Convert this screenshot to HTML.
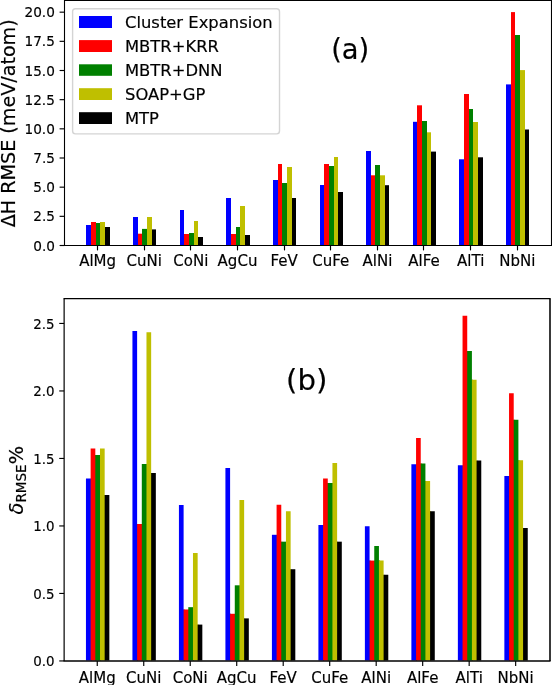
<!DOCTYPE html>
<html lang="en"><head><meta charset="utf-8"><title>RMSE comparison</title>
<style>html,body{margin:0;padding:0;background:#fff}svg{display:block}text{stroke:#000;stroke-width:0.18px}</style></head>
<body>
<svg width="552" height="685" viewBox="0 0 552 685" font-family="'DejaVu Sans', 'Liberation Sans', sans-serif" fill="#000">
<rect x="0" y="0" width="552" height="685" fill="#fff"/>
<g>
<rect x="86" y="225" width="5" height="20" fill="#0000ff"/>
<rect x="91" y="222" width="5" height="23" fill="#ff0000"/>
<rect x="96" y="223" width="4" height="22" fill="#008000"/>
<rect x="100" y="222" width="5" height="23" fill="#bfbf00"/>
<rect x="105" y="227" width="5" height="18" fill="#000000"/>
<rect x="133" y="217" width="5" height="28" fill="#0000ff"/>
<rect x="138" y="233.7" width="4" height="11.3" fill="#ff0000"/>
<rect x="142" y="228.9" width="5" height="16.1" fill="#008000"/>
<rect x="147" y="217" width="5" height="28" fill="#bfbf00"/>
<rect x="152" y="229.4" width="4" height="15.6" fill="#000000"/>
<rect x="180" y="210" width="4" height="35" fill="#0000ff"/>
<rect x="184" y="234" width="5" height="11" fill="#ff0000"/>
<rect x="189" y="233" width="5" height="12" fill="#008000"/>
<rect x="194" y="221" width="4" height="24" fill="#bfbf00"/>
<rect x="198" y="237" width="5" height="8" fill="#000000"/>
<rect x="226" y="198" width="5" height="47" fill="#0000ff"/>
<rect x="231" y="234" width="5" height="11" fill="#ff0000"/>
<rect x="236" y="227" width="4" height="18" fill="#008000"/>
<rect x="240" y="206" width="5" height="39" fill="#bfbf00"/>
<rect x="245" y="235" width="5" height="10" fill="#000000"/>
<rect x="273" y="180" width="5" height="65" fill="#0000ff"/>
<rect x="278" y="164" width="4" height="81" fill="#ff0000"/>
<rect x="282" y="183" width="5" height="62" fill="#008000"/>
<rect x="287" y="167" width="5" height="78" fill="#bfbf00"/>
<rect x="292" y="198" width="4" height="47" fill="#000000"/>
<rect x="320" y="185" width="4" height="60" fill="#0000ff"/>
<rect x="324" y="164" width="5" height="81" fill="#ff0000"/>
<rect x="329" y="166" width="5" height="79" fill="#008000"/>
<rect x="334" y="157" width="4" height="88" fill="#bfbf00"/>
<rect x="338" y="192" width="5" height="53" fill="#000000"/>
<rect x="366" y="151" width="5" height="94" fill="#0000ff"/>
<rect x="371" y="175.3" width="4" height="69.7" fill="#ff0000"/>
<rect x="375" y="165" width="5" height="80" fill="#008000"/>
<rect x="380" y="175.3" width="5" height="69.7" fill="#bfbf00"/>
<rect x="385" y="185.2" width="4" height="59.8" fill="#000000"/>
<rect x="413" y="121.8" width="4" height="123.2" fill="#0000ff"/>
<rect x="417" y="105.3" width="5" height="139.7" fill="#ff0000"/>
<rect x="422" y="121" width="5" height="124" fill="#008000"/>
<rect x="427" y="132.3" width="4" height="112.7" fill="#bfbf00"/>
<rect x="431" y="151.6" width="5" height="93.4" fill="#000000"/>
<rect x="459" y="159.3" width="5" height="85.7" fill="#0000ff"/>
<rect x="464" y="94" width="5" height="151" fill="#ff0000"/>
<rect x="469" y="109" width="4" height="136" fill="#008000"/>
<rect x="473" y="122" width="5" height="123" fill="#bfbf00"/>
<rect x="478" y="157.3" width="5" height="87.7" fill="#000000"/>
<rect x="506" y="84.4" width="5" height="160.6" fill="#0000ff"/>
<rect x="511" y="12.1" width="4" height="232.9" fill="#ff0000"/>
<rect x="515" y="35" width="5" height="210" fill="#008000"/>
<rect x="520" y="70.1" width="5" height="174.9" fill="#bfbf00"/>
<rect x="525" y="129.5" width="4" height="115.5" fill="#000000"/>
</g>
<line x1="97.50" y1="245.5" x2="97.50" y2="250.40" stroke="#000" stroke-width="1.15"/>
<text x="79.17" y="266.3" font-size="15.28" textLength="36.90" lengthAdjust="spacingAndGlyphs">AlMg</text>
<line x1="144.50" y1="245.5" x2="144.50" y2="250.40" stroke="#000" stroke-width="1.15"/>
<text x="126.56" y="266.3" font-size="15.28" textLength="35.38" lengthAdjust="spacingAndGlyphs">CuNi</text>
<line x1="190.50" y1="245.5" x2="190.50" y2="250.40" stroke="#000" stroke-width="1.15"/>
<text x="173.35" y="266.3" font-size="15.28" textLength="35.05" lengthAdjust="spacingAndGlyphs">CoNi</text>
<line x1="237.50" y1="245.5" x2="237.50" y2="250.40" stroke="#000" stroke-width="1.15"/>
<text x="217.62" y="266.3" font-size="15.28" textLength="39.78" lengthAdjust="spacingAndGlyphs">AgCu</text>
<line x1="284.50" y1="245.5" x2="284.50" y2="250.40" stroke="#000" stroke-width="1.15"/>
<text x="270.49" y="266.3" font-size="15.28" textLength="27.31" lengthAdjust="spacingAndGlyphs">FeV</text>
<line x1="330.50" y1="245.5" x2="330.50" y2="250.40" stroke="#000" stroke-width="1.15"/>
<text x="312.25" y="266.3" font-size="15.28" textLength="37.03" lengthAdjust="spacingAndGlyphs">CuFe</text>
<line x1="377.50" y1="245.5" x2="377.50" y2="250.40" stroke="#000" stroke-width="1.15"/>
<text x="362.49" y="266.3" font-size="15.28" textLength="29.83" lengthAdjust="spacingAndGlyphs">AlNi</text>
<line x1="423.50" y1="245.5" x2="423.50" y2="250.40" stroke="#000" stroke-width="1.15"/>
<text x="408.29" y="266.3" font-size="15.28" textLength="31.48" lengthAdjust="spacingAndGlyphs">AlFe</text>
<line x1="470.50" y1="245.5" x2="470.50" y2="250.40" stroke="#000" stroke-width="1.15"/>
<text x="457.01" y="266.3" font-size="15.28" textLength="27.31" lengthAdjust="spacingAndGlyphs">AlTi</text>
<line x1="517.50" y1="245.5" x2="517.50" y2="250.40" stroke="#000" stroke-width="1.15"/>
<text x="499.22" y="266.3" font-size="15.28" textLength="36.14" lengthAdjust="spacingAndGlyphs">NbNi</text>
<line x1="59.60" y1="245.50" x2="64.5" y2="245.50" stroke="#000" stroke-width="1.15"/>
<text x="33.21" y="250.60" font-size="13.89" textLength="21.69" lengthAdjust="spacingAndGlyphs">0.0</text>
<line x1="59.60" y1="216.33" x2="64.5" y2="216.33" stroke="#000" stroke-width="1.15"/>
<text x="33.21" y="221.43" font-size="13.89" textLength="21.69" lengthAdjust="spacingAndGlyphs">2.5</text>
<line x1="59.60" y1="187.17" x2="64.5" y2="187.17" stroke="#000" stroke-width="1.15"/>
<text x="33.21" y="192.27" font-size="13.89" textLength="21.69" lengthAdjust="spacingAndGlyphs">5.0</text>
<line x1="59.60" y1="158.00" x2="64.5" y2="158.00" stroke="#000" stroke-width="1.15"/>
<text x="33.21" y="163.10" font-size="13.89" textLength="21.69" lengthAdjust="spacingAndGlyphs">7.5</text>
<line x1="59.60" y1="128.83" x2="64.5" y2="128.83" stroke="#000" stroke-width="1.15"/>
<text x="24.53" y="133.93" font-size="13.89" textLength="30.37" lengthAdjust="spacingAndGlyphs">10.0</text>
<line x1="59.60" y1="99.67" x2="64.5" y2="99.67" stroke="#000" stroke-width="1.15"/>
<text x="24.53" y="104.77" font-size="13.89" textLength="30.37" lengthAdjust="spacingAndGlyphs">12.5</text>
<line x1="59.60" y1="70.50" x2="64.5" y2="70.50" stroke="#000" stroke-width="1.15"/>
<text x="24.53" y="75.60" font-size="13.89" textLength="30.37" lengthAdjust="spacingAndGlyphs">15.0</text>
<line x1="59.60" y1="41.33" x2="64.5" y2="41.33" stroke="#000" stroke-width="1.15"/>
<text x="24.53" y="46.43" font-size="13.89" textLength="30.37" lengthAdjust="spacingAndGlyphs">17.5</text>
<line x1="59.60" y1="12.17" x2="64.5" y2="12.17" stroke="#000" stroke-width="1.15"/>
<text x="24.53" y="17.27" font-size="13.89" textLength="30.37" lengthAdjust="spacingAndGlyphs">20.0</text>
<line x1="63.95" y1="0.5" x2="552.05" y2="0.5" stroke="#000" stroke-width="1.1"/>
<line x1="551.5" y1="0.5" x2="551.5" y2="245.5" stroke="#000" stroke-width="1.1"/>
<line x1="63.95" y1="245.5" x2="552.05" y2="245.5" stroke="#000" stroke-width="1.1"/>
<line x1="64.5" y1="0.5" x2="64.5" y2="245.5" stroke="#000" stroke-width="1.1"/>
<path d="M85.95 660.5V478.38H90.63V478.38h1V660.5Z" fill="#0000ff"/>
<path d="M90.63 660.5V448.42H95.31V454.89h1V660.5Z" fill="#ff0000"/>
<path d="M95.31 660.5V454.89H99.99V454.89h1V660.5Z" fill="#008000"/>
<path d="M99.99 660.5V448.42H104.67V495.12h1V660.5Z" fill="#bfbf00"/>
<path d="M104.67 660.5V495.12H109.35V660.5Z" fill="#000000"/>
<path d="M132.44 660.5V331.10H137.12V523.88h1V660.5Z" fill="#0000ff"/>
<path d="M137.12 660.5V523.88H141.80V523.88h1V660.5Z" fill="#ff0000"/>
<path d="M141.80 660.5V463.94H146.48V463.94h1V660.5Z" fill="#008000"/>
<path d="M146.48 660.5V332.31H151.16V473.12h1V660.5Z" fill="#bfbf00"/>
<path d="M151.16 660.5V473.12H155.84V660.5Z" fill="#000000"/>
<path d="M178.93 660.5V504.98H183.61V609.47h1V660.5Z" fill="#0000ff"/>
<path d="M183.61 660.5V609.47H188.29V609.47h1V660.5Z" fill="#ff0000"/>
<path d="M188.29 660.5V607.17H192.97V607.17h1V660.5Z" fill="#008000"/>
<path d="M192.97 660.5V553.04H197.65V624.59h1V660.5Z" fill="#bfbf00"/>
<path d="M197.65 660.5V624.59H202.33V660.5Z" fill="#000000"/>
<path d="M225.42 660.5V468.12H230.10V613.79h1V660.5Z" fill="#0000ff"/>
<path d="M230.10 660.5V613.79H234.78V613.79h1V660.5Z" fill="#ff0000"/>
<path d="M234.78 660.5V585.30H239.46V585.30h1V660.5Z" fill="#008000"/>
<path d="M239.46 660.5V499.99H244.14V618.38h1V660.5Z" fill="#bfbf00"/>
<path d="M244.14 660.5V618.38H248.82V660.5Z" fill="#000000"/>
<path d="M271.91 660.5V534.79H276.59V534.79h1V660.5Z" fill="#0000ff"/>
<path d="M276.59 660.5V504.81H281.27V541.67h1V660.5Z" fill="#ff0000"/>
<path d="M281.27 660.5V541.67H285.95V541.67h1V660.5Z" fill="#008000"/>
<path d="M285.95 660.5V511.30H290.63V569.21h1V660.5Z" fill="#bfbf00"/>
<path d="M290.63 660.5V569.21H295.31V660.5Z" fill="#000000"/>
<path d="M318.40 660.5V525.07H323.08V525.07h1V660.5Z" fill="#0000ff"/>
<path d="M323.08 660.5V478.62H327.76V483.08h1V660.5Z" fill="#ff0000"/>
<path d="M327.76 660.5V483.08H332.44V483.08h1V660.5Z" fill="#008000"/>
<path d="M332.44 660.5V463.10H337.12V541.67h1V660.5Z" fill="#bfbf00"/>
<path d="M337.12 660.5V541.67H341.80V660.5Z" fill="#000000"/>
<path d="M364.89 660.5V526.14H369.57V560.57h1V660.5Z" fill="#0000ff"/>
<path d="M369.57 660.5V560.57H374.25V560.57h1V660.5Z" fill="#ff0000"/>
<path d="M374.25 660.5V546.12H378.93V560.57h1V660.5Z" fill="#008000"/>
<path d="M378.93 660.5V560.57H383.61V574.75h1V660.5Z" fill="#bfbf00"/>
<path d="M383.61 660.5V574.75H388.29V660.5Z" fill="#000000"/>
<path d="M411.38 660.5V464.18H416.06V464.18h1V660.5Z" fill="#0000ff"/>
<path d="M416.06 660.5V438.12H420.74V463.50h1V660.5Z" fill="#ff0000"/>
<path d="M420.74 660.5V463.50H425.42V480.92h1V660.5Z" fill="#008000"/>
<path d="M425.42 660.5V480.92H430.10V511.30h1V660.5Z" fill="#bfbf00"/>
<path d="M430.10 660.5V511.30H434.78V660.5Z" fill="#000000"/>
<path d="M457.87 660.5V465.29H462.55V465.29h1V660.5Z" fill="#0000ff"/>
<path d="M462.55 660.5V315.85H467.23V350.94h1V660.5Z" fill="#ff0000"/>
<path d="M467.23 660.5V350.94H471.91V379.70h1V660.5Z" fill="#008000"/>
<path d="M471.91 660.5V379.70H476.59V460.43h1V660.5Z" fill="#bfbf00"/>
<path d="M476.59 660.5V460.43H481.27V660.5Z" fill="#000000"/>
<path d="M504.36 660.5V476.09H509.04V476.09h1V660.5Z" fill="#0000ff"/>
<path d="M509.04 660.5V393.20H513.72V419.66h1V660.5Z" fill="#ff0000"/>
<path d="M513.72 660.5V419.66H518.40V460.16h1V660.5Z" fill="#008000"/>
<path d="M518.40 660.5V460.16H523.08V527.93h1V660.5Z" fill="#bfbf00"/>
<path d="M523.08 660.5V527.93H527.76V660.5Z" fill="#000000"/>
<line x1="97.25" y1="661.0" x2="97.25" y2="665.90" stroke="#000" stroke-width="1.15"/>
<text x="78.80" y="682.6" font-size="15.28" textLength="36.90" lengthAdjust="spacingAndGlyphs">AlMg</text>
<line x1="143.74" y1="661.0" x2="143.74" y2="665.90" stroke="#000" stroke-width="1.15"/>
<text x="126.05" y="682.6" font-size="15.28" textLength="35.38" lengthAdjust="spacingAndGlyphs">CuNi</text>
<line x1="190.23" y1="661.0" x2="190.23" y2="665.90" stroke="#000" stroke-width="1.15"/>
<text x="172.70" y="682.6" font-size="15.28" textLength="35.05" lengthAdjust="spacingAndGlyphs">CoNi</text>
<line x1="236.72" y1="661.0" x2="236.72" y2="665.90" stroke="#000" stroke-width="1.15"/>
<text x="216.83" y="682.6" font-size="15.28" textLength="39.78" lengthAdjust="spacingAndGlyphs">AgCu</text>
<line x1="283.21" y1="661.0" x2="283.21" y2="665.90" stroke="#000" stroke-width="1.15"/>
<text x="269.56" y="682.6" font-size="15.28" textLength="27.31" lengthAdjust="spacingAndGlyphs">FeV</text>
<line x1="329.70" y1="661.0" x2="329.70" y2="665.90" stroke="#000" stroke-width="1.15"/>
<text x="311.18" y="682.6" font-size="15.28" textLength="37.03" lengthAdjust="spacingAndGlyphs">CuFe</text>
<line x1="376.19" y1="661.0" x2="376.19" y2="665.90" stroke="#000" stroke-width="1.15"/>
<text x="361.28" y="682.6" font-size="15.28" textLength="29.83" lengthAdjust="spacingAndGlyphs">AlNi</text>
<line x1="422.68" y1="661.0" x2="422.68" y2="665.90" stroke="#000" stroke-width="1.15"/>
<text x="406.94" y="682.6" font-size="15.28" textLength="31.48" lengthAdjust="spacingAndGlyphs">AlFe</text>
<line x1="469.17" y1="661.0" x2="469.17" y2="665.90" stroke="#000" stroke-width="1.15"/>
<text x="455.52" y="682.6" font-size="15.28" textLength="27.31" lengthAdjust="spacingAndGlyphs">AlTi</text>
<line x1="515.66" y1="661.0" x2="515.66" y2="665.90" stroke="#000" stroke-width="1.15"/>
<text x="497.59" y="682.6" font-size="15.28" textLength="36.14" lengthAdjust="spacingAndGlyphs">NbNi</text>
<line x1="59.23" y1="660.95" x2="64.13" y2="660.95" stroke="#000" stroke-width="1.15"/>
<text x="33.17" y="666.00" font-size="14.5" textLength="21.36" lengthAdjust="spacingAndGlyphs">0.0</text>
<line x1="59.23" y1="593.45" x2="64.13" y2="593.45" stroke="#000" stroke-width="1.15"/>
<text x="33.17" y="598.50" font-size="14.5" textLength="21.36" lengthAdjust="spacingAndGlyphs">0.5</text>
<line x1="59.23" y1="525.95" x2="64.13" y2="525.95" stroke="#000" stroke-width="1.15"/>
<text x="33.17" y="531.00" font-size="14.5" textLength="21.36" lengthAdjust="spacingAndGlyphs">1.0</text>
<line x1="59.23" y1="458.45" x2="64.13" y2="458.45" stroke="#000" stroke-width="1.15"/>
<text x="33.17" y="463.50" font-size="14.5" textLength="21.36" lengthAdjust="spacingAndGlyphs">1.5</text>
<line x1="59.23" y1="390.95" x2="64.13" y2="390.95" stroke="#000" stroke-width="1.15"/>
<text x="33.17" y="396.00" font-size="14.5" textLength="21.36" lengthAdjust="spacingAndGlyphs">2.0</text>
<line x1="59.23" y1="323.45" x2="64.13" y2="323.45" stroke="#000" stroke-width="1.15"/>
<text x="33.17" y="328.50" font-size="14.5" textLength="21.36" lengthAdjust="spacingAndGlyphs">2.5</text>
<line x1="63.58" y1="298.55" x2="550.55" y2="298.55" stroke="#000" stroke-width="1.2"/>
<line x1="550.0" y1="298.55" x2="550.0" y2="661.0" stroke="#000" stroke-width="1.55"/>
<line x1="63.58" y1="661.0" x2="550.55" y2="661.0" stroke="#000" stroke-width="1.55"/>
<line x1="64.13" y1="298.55" x2="64.13" y2="661.0" stroke="#000" stroke-width="1.2"/>
<rect x="72.6" y="8.7" width="206.9" height="125.2" rx="2.8" ry="2.8" fill="#fff" fill-opacity="0.8" stroke="#cccccc" stroke-opacity="0.85" stroke-width="1.4"/>
<rect x="79" y="16" width="33" height="12" fill="#0000ff"/>
<text x="125.0" y="27.70" font-size="16.67" textLength="147.61" lengthAdjust="spacingAndGlyphs">Cluster Expansion</text>
<rect x="79" y="40.1" width="33" height="11.899999999999999" fill="#ff0000"/>
<text x="125.0" y="51.70" font-size="16.67" textLength="93.93" lengthAdjust="spacingAndGlyphs">MBTR+KRR</text>
<rect x="79" y="64.3" width="33" height="11.5" fill="#008000"/>
<text x="125.0" y="75.70" font-size="16.67" textLength="97.54" lengthAdjust="spacingAndGlyphs">MBTR+DNN</text>
<rect x="79" y="88.2" width="33" height="11.799999999999997" fill="#bfbf00"/>
<text x="125.0" y="99.70" font-size="16.67" textLength="80.33" lengthAdjust="spacingAndGlyphs">SOAP+GP</text>
<rect x="79" y="112.2" width="33" height="11.799999999999997" fill="#000000"/>
<text x="125.0" y="123.70" font-size="16.67" textLength="34.00" lengthAdjust="spacingAndGlyphs">MTP</text>
<text x="331.14" y="58.9" font-size="27.78" textLength="38.12" lengthAdjust="spacingAndGlyphs">(a)</text>
<text x="286.06" y="389.7" font-size="27.9" textLength="41.28" lengthAdjust="spacingAndGlyphs">(b)</text>
<text transform="translate(15.3,227.2) rotate(-90)" font-size="19.44" textLength="207.9" lengthAdjust="spacingAndGlyphs">ΔH RMSE (meV/atom)</text>
<text transform="translate(23.3,514.5) rotate(-90)" font-size="20.2" textLength="68.6" lengthAdjust="spacingAndGlyphs"><tspan font-style="italic">δ</tspan><tspan font-size="14.1" dy="3">RMSE</tspan><tspan dy="-3">%</tspan></text>
</svg>
</body></html>
